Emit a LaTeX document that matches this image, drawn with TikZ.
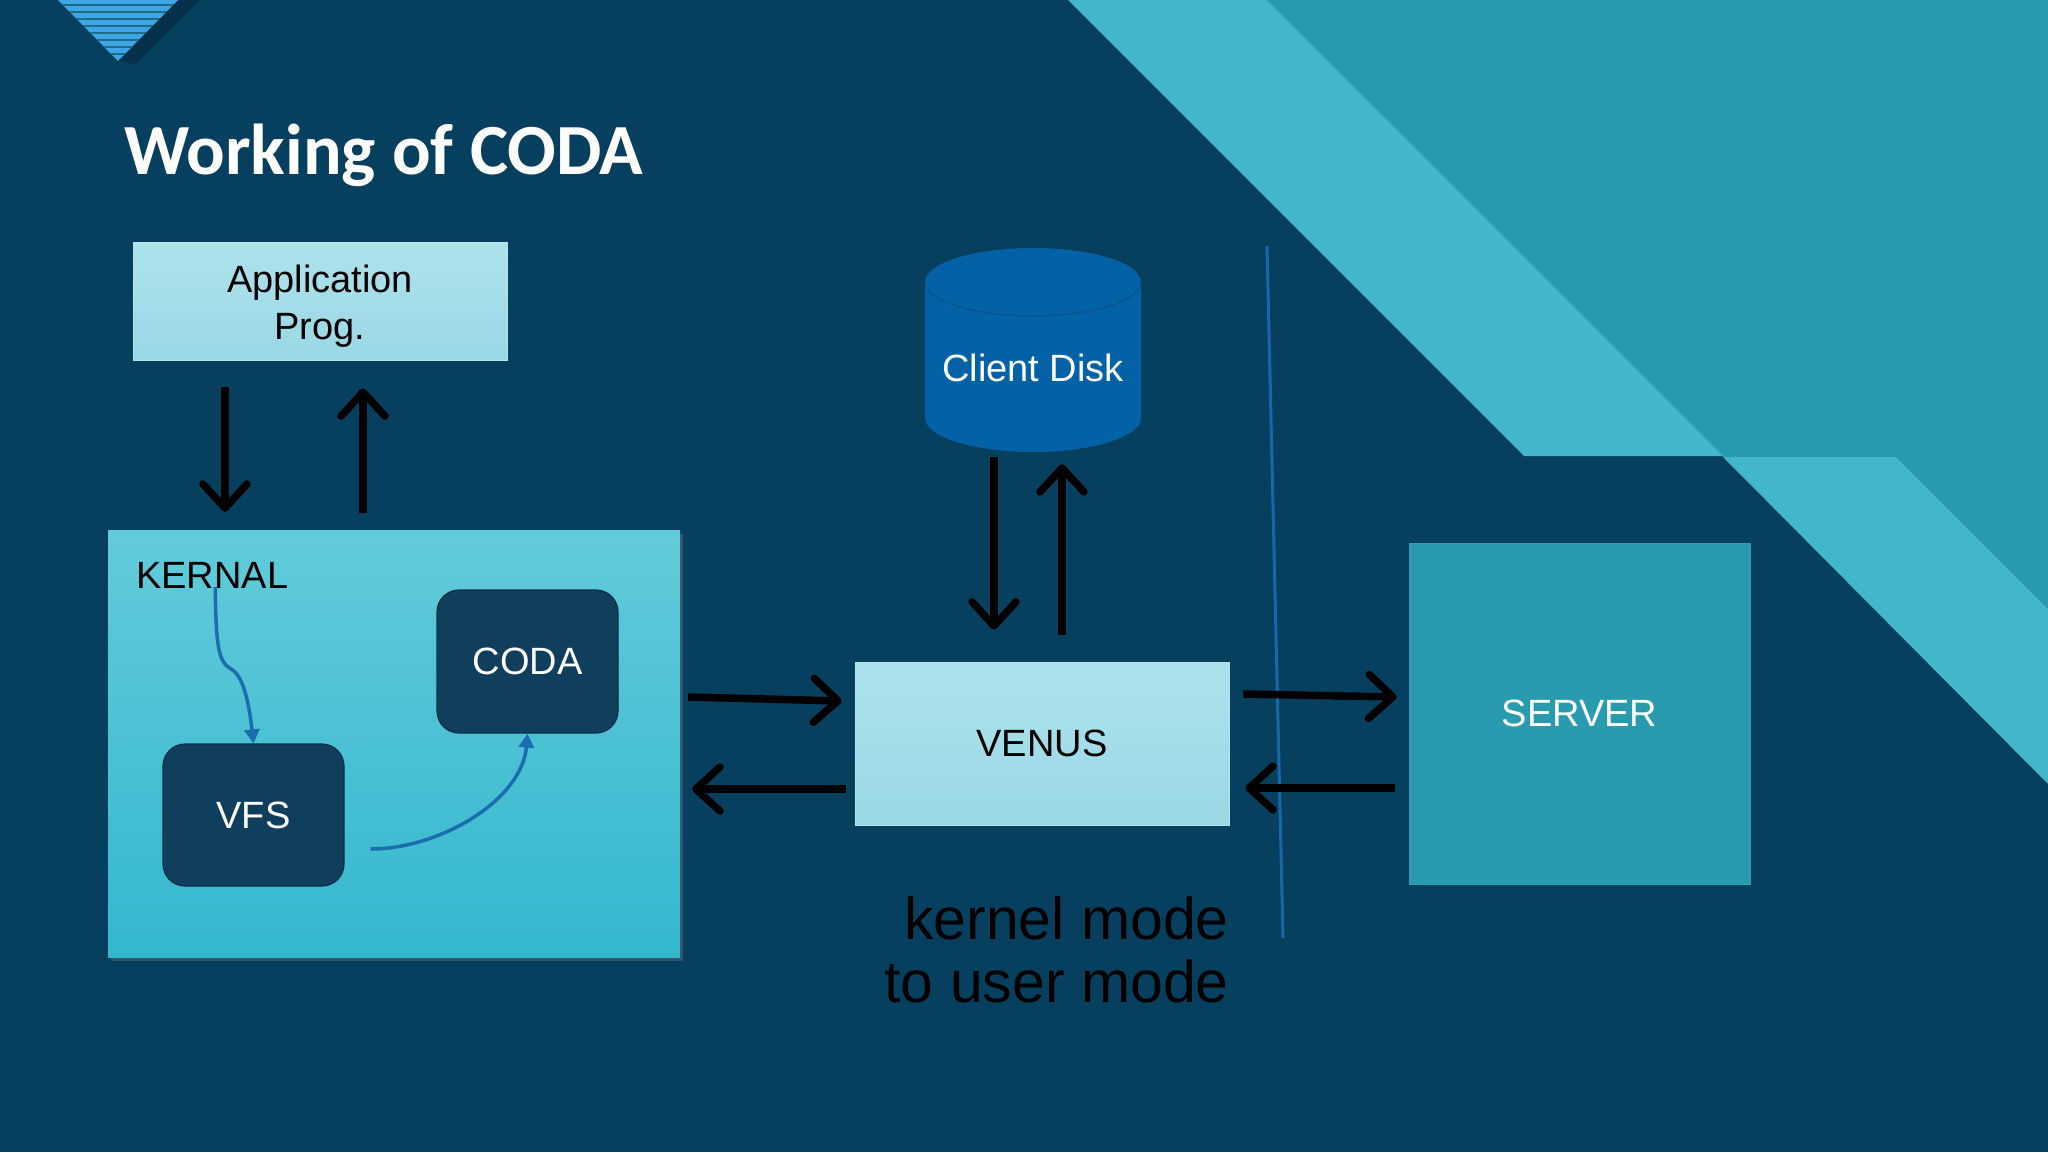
\documentclass[tikz,border=0pt]{standalone}
\usepackage{fontspec}
\setmainfont{Liberation Sans}
\newfontfamily\titlefont{Carlito}
\usetikzlibrary{arrows.meta,calc,shadows}
\definecolor{bgc}{HTML}{073F5E}
\definecolor{tealA}{HTML}{41B7C9}
\definecolor{tealB}{HTML}{289BAE}
\definecolor{boxdark}{HTML}{103F5E}
\definecolor{boxedge}{HTML}{0A2F48}
\definecolor{diskc}{HTML}{0362A6}
\definecolor{diskedge}{HTML}{0A4F84}
\definecolor{linkblue}{HTML}{1A6EAD}
\definecolor{sepblue}{HTML}{1767AB}
\definecolor{stripe}{HTML}{3DA6E6}
\definecolor{stripeline}{HTML}{1F6C86}
\definecolor{triShadow}{HTML}{05314C}
\definecolor{lightTop}{HTML}{ADE2EB}
\definecolor{lightBot}{HTML}{9BD7E5}
\definecolor{lightEdge}{HTML}{B5E4EC}
\definecolor{kernTop}{HTML}{62CBDA}
\definecolor{kernBot}{HTML}{34B7CE}
\definecolor{serverEdge}{HTML}{2FA2B4}
\tikzset{
  lightbox/.style={rectangle, inner sep=0pt, top color=lightTop, bottom color=lightBot, draw=lightEdge, line width=0.8pt, text=black, font=\fontsize{38}{44}\selectfont, align=center},
  kernbox/.style={rectangle, inner sep=0pt, top color=kernTop, bottom color=kernBot, drop shadow={shadow xshift=3pt, shadow yshift=-4pt, opacity=0.35}},
  darkbox/.style={rectangle, rounded corners=22pt, fill=boxdark, draw=boxedge, line width=1.2pt, text=white, font=\fontsize{38}{44}\selectfont},
  serverbox/.style={rectangle, fill=tealB, draw=serverEdge, line width=0.8pt, text=white, font=\fontsize{38}{44}\selectfont},
  bigarrow/.style={line width=7.5pt, black, -{Straight Barb[length=24pt, width=44pt, round]}},
  link/.style={line width=3.5pt, linkblue, -{Triangle[length=14pt, width=15pt]}},
}
\begin{document}
\begin{tikzpicture}[x=1pt,y=-1pt]
\useasboundingbox (0,0) rectangle (2048,1152);
% background
\fill[bgc] (0,0) rectangle (2048,1152);
\fill[tealB] (1267,0) -- (2048,0) -- (2048,609) -- (1896,457) -- (1723,457) -- cycle;
\fill[tealA] (1068,0) -- (1267,0) -- (1723,456) -- (1524,456) -- cycle;
\fill[tealA] (1723,457) -- (1896,457) -- (2048,609) -- (2048,784) -- cycle;
% striped triangle with shadow
\fill[triShadow] (178,0) -- (200,0) -- (136,64) -- (118,61) -- cycle;
\begin{scope}
  \clip (58,0) -- (178,0) -- (118,61) -- cycle;
  \fill[stripe] (58,0) rectangle (178,61);
  \foreach \yy in {5,12,19,26,33,40,47,54}
    \draw[stripeline, line width=1.6pt] (50,\yy) -- (190,\yy);
\end{scope}
% title
\node[anchor=base west, inner sep=0pt, text=white, font=\titlefont\bfseries\fontsize{72}{80}\selectfont] (title) at (124,174) {Working of CODA};
% application
\node[lightbox, minimum width=374pt, minimum height=118pt] (app) at (320,301) {\rule{0pt}{38pt}Application\\[3pt]Prog.};
% kernel
\node[kernbox, minimum width=572pt, minimum height=427pt] (kernel) at (394,743.5) {};
\node[anchor=base west, inner sep=0pt, text=black, font=\fontsize{38}{44}\selectfont] (klabel) at (136,588) {KERNAL};
\node[darkbox, minimum width=181pt, minimum height=143pt] (coda) at (527.5,661.5) {CODA};
\node[darkbox, minimum width=181pt, minimum height=142pt] (vfs) at (253.5,815) {VFS};
% venus
\node[lightbox, minimum width=374pt, minimum height=163pt] (venus) at (1042,743.5) {VENUS};
% server
\node[serverbox, minimum width=341pt, minimum height=341pt] (server) at (1579.5,713.5) {SERVER};
% client disk
\fill[diskc] (925,282) -- (925,418) arc (180:360:108pt and 34pt) -- (1141,282) arc (0:180:108pt and 34pt) -- cycle;
\draw[diskedge, line width=1pt] (925,282) arc (180:360:108pt and 34pt);
\node[rectangle, inner sep=0pt, minimum width=216pt, minimum height=204pt] (disk) at (1033,350) {};
\node[text=white, font=\fontsize{38}{44}\selectfont, inner sep=0pt] (disktext) at (1033,368) {Client Disk};
% separator line
\coordinate (sepTop) at (1267,246);
\coordinate (sepBot) at (1283,938);
\draw[sepblue, line width=3pt] (sepTop) -- (sepBot);
% mode text
\node[anchor=north east, inner sep=0pt, align=right, text=black, font=\fontsize{59}{63}\selectfont] (mode) at (1229,897) {kernel mode\\to user mode};
% arrows app <-> kernel
\draw[bigarrow] ([xshift=-95pt,yshift=-27pt]app.south) -- ([xshift=-169pt,yshift=18pt]kernel.north);
\draw[bigarrow] ([xshift=-31pt,yshift=17pt]kernel.north) -- ([xshift=43pt,yshift=-28pt]app.south);
% arrows disk <-> venus
\draw[bigarrow] ([xshift=-39pt,yshift=-5pt]disk.south) -- ([xshift=-48pt,yshift=32pt]venus.north);
\draw[bigarrow] ([xshift=20pt,yshift=27pt]venus.north) -- ([xshift=29pt,yshift=-12pt]disk.south);
% arrows kernel <-> venus
\draw[bigarrow] ([xshift=8pt,yshift=46.5pt]kernel.east) -- ([xshift=-13pt,yshift=42.5pt]venus.west);
\draw[bigarrow] ([xshift=-9pt,yshift=-45.5pt]venus.west) -- ([xshift=12pt,yshift=-45.5pt]kernel.east);
% arrows venus <-> server
\draw[bigarrow] ([xshift=14pt,yshift=49.5pt]venus.east) -- ([xshift=-12pt,yshift=16.5pt]server.west);
\draw[bigarrow] ([xshift=-14pt,yshift=-74.5pt]server.west) -- ([xshift=16pt,yshift=-44.5pt]venus.east);
% links inside kernel
\coordinate (kstart) at ([xshift=3pt,yshift=1pt]klabel.south);
\draw[link] (kstart) .. controls (216,645) and (218,662) .. (231,669) .. controls (245,676) and (250,712) .. (vfs.north);
\draw[link] ([xshift=26pt,yshift=-34pt]vfs.east) .. controls (440,849) and (522,800) .. (coda.south);
\end{tikzpicture}
\end{document}
